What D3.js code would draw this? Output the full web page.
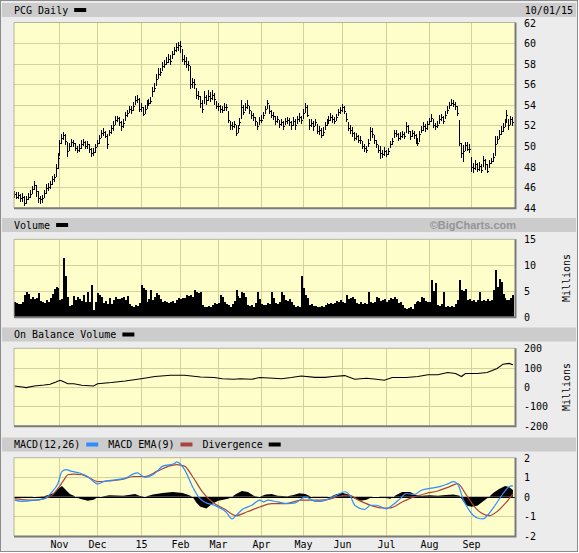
<!DOCTYPE html>
<html lang="en">
<head>
<meta charset="utf-8">
<script src="https://cdn.jsdelivr.net/npm/d3@7"></script>
<style>
    body { margin: 0; background: #ffffff; }
    text { font-family: "DejaVu Sans Mono", monospace; font-size: 10px; fill: #000; }
</style>
</head>
<body>
<div id="chart"></div>
<script>
// month grid: label and trading-day index of first session of the month
var monthLabels = ["Nov", "Dec", "15", "Feb", "Mar", "Apr", "May", "Jun", "Jul", "Aug", "Sep"]
var monthStart = [23, 42, 64, 84, 103, 125, 146, 166, 188, 210, 231]

// daily PCG bars, Oct 2014 .. Oct 1 2015 (one row per month)
var high = [
    45.6,45.5,45.5,45.3,45.4,45.1,45.1,45.4,45.7,46.1,46.6,46.2,45.6,45.1,45.2,45.7,46.3,46.4,46.6,47.1,47.3,48.2,49.3,
    50.6,51.2,51.4,51.2,50.4,50.3,50.7,50.6,50.3,50.0,50.2,50.6,50.7,50.5,50.5,50.2,49.8,49.8,50.2,
    50.6,51.1,51.6,51.7,51.5,51.2,51.6,52.0,52.4,52.9,52.9,52.8,52.4,52.6,53.3,53.5,53.9,53.9,54.3,54.9,55.0,54.7,
    54.2,53.8,54.0,54.5,54.6,54.8,55.7,56.1,57.0,57.6,57.6,58.2,58.4,58.6,58.9,58.8,59.2,59.6,60.0,60.1,
    60.2,59.4,58.8,58.6,58.3,57.8,56.6,56.5,55.6,55.3,54.9,54.5,55.3,55.0,55.4,55.2,55.4,55.1,54.4,
    54.2,54.0,53.9,54.2,54.1,53.4,52.4,52.3,52.4,52.0,52.0,52.7,54.5,54.0,54.2,54.5,53.9,53.4,53.2,52.8,52.3,52.8,
    53.0,53.3,53.9,54.5,54.0,53.5,53.3,52.9,52.9,52.5,52.6,52.4,52.7,52.8,52.7,52.4,52.8,52.6,52.9,53.2,52.9,
    53.6,54.2,54.0,52.6,52.6,52.4,52.6,52.1,51.9,51.7,51.8,52.3,52.6,52.9,53.2,53.0,52.8,53.1,53.6,53.8,
    54.1,53.9,53.2,52.3,52.0,51.8,51.4,51.3,51.1,51.0,50.5,50.2,50.0,50.7,51.8,51.7,51.1,50.6,50.1,50.0,49.6,49.9,
    49.6,49.8,50.5,50.8,51.6,51.6,51.3,51.4,51.5,51.4,52.3,52.0,51.5,51.6,51.5,51.2,50.8,51.5,51.9,52.3,52.1,52.4,
    52.7,53.1,52.6,52.2,52.4,53.0,53.1,52.9,53.4,53.9,54.3,54.6,54.5,54.3,53.9,52.5,50.3,50.1,50.4,50.4,50.2,
    48.9,48.3,48.6,48.3,48.4,48.2,49.0,48.7,48.2,48.6,48.8,49.3,51.0,51.0,51.6,51.9,52.2,52.6,53.5,52.6,52.9,52.8
]
var low = [
    44.9,44.8,44.8,44.6,44.6,44.2,44.4,44.7,44.9,45.3,45.7,45.0,44.5,44.4,44.5,44.9,45.3,45.6,45.8,46.2,46.5,47.0,47.8,
    49.0,50.2,50.6,50.1,48.9,49.5,49.9,49.9,49.5,49.3,49.4,49.7,50.0,49.7,49.7,49.3,48.9,49.0,49.3,
    49.9,50.2,50.8,51.0,50.8,49.7,51.0,51.2,51.5,52.0,52.3,51.9,51.5,51.7,52.4,52.8,53.2,53.1,53.4,54.0,54.2,53.3,
    53.3,52.9,53.1,53.6,53.9,54.1,54.8,55.2,55.8,56.5,56.8,57.3,57.6,57.9,58.1,57.9,58.5,58.8,59.1,59.2,
    59.0,58.2,57.9,57.6,57.3,55.5,55.6,55.5,54.6,54.5,53.7,53.2,54.1,54.0,54.4,54.3,54.5,54.0,53.6,
    53.4,53.2,53.2,53.4,53.4,52.2,51.6,51.6,51.7,51.0,51.3,51.9,52.6,53.0,53.4,53.6,53.1,52.6,52.4,51.9,51.6,52.0,
    52.2,52.6,53.1,53.6,53.1,52.7,52.5,52.0,52.2,51.7,51.9,51.6,52.0,52.1,51.9,51.6,51.9,51.6,52.1,52.3,52.1,
    52.6,53.2,52.8,51.6,51.8,51.5,51.9,51.2,51.1,50.8,51.0,51.6,51.9,52.1,52.4,52.2,52.1,52.4,52.9,53.1,
    53.3,53.1,52.3,51.5,51.2,50.9,50.5,50.6,50.3,50.2,49.7,49.4,49.3,49.9,50.5,50.8,50.2,49.8,49.3,48.7,48.8,49.0,
    48.9,49.1,49.8,50.1,50.8,50.9,50.5,50.6,50.8,50.7,51.3,51.2,50.6,50.9,50.7,50.2,50.0,50.4,51.3,51.5,51.4,51.6,
    52.0,52.3,51.7,51.6,51.7,52.1,52.4,52.1,52.6,53.1,53.6,53.9,53.8,53.5,52.9,50.0,48.8,48.4,49.5,49.5,49.3,
    47.5,47.4,47.7,47.5,47.6,47.4,48.0,47.7,47.4,47.9,48.2,48.4,49.0,50.2,50.7,51.1,51.4,51.8,52.2,51.6,52.0,51.9
]
var close = [
    45.3,45.0,45.2,44.9,45.0,44.5,44.8,45.0,45.3,45.8,46.2,45.6,44.9,44.8,44.9,45.4,45.9,46.0,46.3,46.8,47.0,47.9,48.8,
    50.3,50.8,51.1,50.5,49.5,50.0,50.4,50.3,49.8,49.6,49.8,50.2,50.4,50.0,50.2,49.7,49.3,49.4,49.9,
    50.3,50.8,51.3,51.4,51.0,50.2,51.4,51.7,52.0,52.5,52.7,52.3,51.9,52.2,53.0,53.2,53.6,53.5,53.9,54.5,54.6,53.6,
    53.8,53.1,53.6,54.0,54.2,54.4,55.3,55.6,56.5,57.0,57.2,57.8,58.0,58.2,58.5,58.3,58.9,59.3,59.6,59.8,
    59.7,58.5,58.3,58.0,57.9,56.0,56.2,56.0,55.0,54.9,54.2,53.6,54.8,54.5,54.9,54.7,55.0,54.6,53.9,
    53.9,53.6,53.5,53.8,53.8,52.5,52.0,51.9,52.1,51.3,51.7,52.3,53.8,53.3,53.8,54.0,53.5,53.0,52.8,52.4,51.9,52.5,
    52.5,53.0,53.6,54.2,53.4,53.0,52.9,52.4,52.6,52.1,52.3,51.9,52.4,52.5,52.3,52.0,52.4,52.0,52.6,52.8,52.5,
    53.2,53.8,53.0,52.0,52.2,51.9,52.3,51.5,51.6,51.1,51.4,52.0,52.3,52.5,52.8,52.6,52.4,52.8,53.3,53.5,
    53.8,53.4,52.6,51.7,51.6,51.3,50.8,51.0,50.6,50.6,50.0,49.8,49.6,50.3,51.5,51.2,50.6,50.2,49.6,49.3,49.2,49.5,
    49.2,49.5,50.2,50.5,51.3,51.2,50.8,51.0,51.2,51.0,51.9,51.5,51.0,51.3,51.1,50.6,50.3,51.2,51.6,51.9,51.7,52.1,
    52.4,52.7,52.0,51.9,52.0,52.6,52.8,52.4,53.0,53.5,54.0,54.2,54.1,53.9,53.2,50.3,49.3,49.5,50.1,49.7,49.7,
    48.0,47.9,48.2,47.8,48.1,47.7,48.6,48.2,47.6,48.3,48.5,48.9,50.2,50.7,51.2,51.5,51.8,52.3,53.0,52.0,52.6,52.3
]

// daily volume, millions
var volume = [
    2.8,2.6,2.4,2.5,2.9,4.2,4.8,4.4,3.4,3.8,3.5,3.6,4.5,3.0,2.8,2.7,3.2,2.9,3.6,4.4,5.4,5.7,5.5,
    3.2,3.4,11.3,7.8,3.9,2.0,2.2,4.0,3.2,3.9,3.5,3.0,4.2,2.9,4.8,2.8,6.1,1.3,2.9,
    4.5,4.2,3.8,2.6,3.0,2.4,3.6,2.5,3.2,3.9,3.5,3.4,3.7,3.9,3.3,4.0,2.5,2.0,1.8,2.3,2.1,2.6,
    6.1,5.6,5.2,2.9,3.4,5.2,3.2,3.8,4.5,4.2,3.5,2.9,3.1,2.8,2.6,2.9,3.0,2.7,3.2,3.6,
    3.4,3.6,3.7,4.2,4.0,4.3,3.9,5.2,4.8,4.5,4.8,2.3,1.9,1.8,2.0,1.9,2.3,2.6,2.4,
    2.7,4.2,3.8,2.9,2.4,2.2,1.9,2.5,3.0,5.2,4.0,3.6,4.8,4.5,3.8,2.3,2.0,2.2,1.9,2.6,4.8,3.5,
    2.5,2.3,2.2,2.6,2.4,4.8,3.6,2.6,2.5,2.8,4.8,4.2,3.2,3.0,3.4,2.9,2.3,1.9,2.0,1.8,7.8,
    5.5,4.2,3.6,2.3,2.4,2.1,2.0,1.9,1.8,2.0,1.9,2.2,2.6,2.5,2.7,2.4,2.6,3.0,2.8,3.2,
    2.9,2.6,4.2,3.4,3.6,3.8,3.5,2.6,2.4,2.8,2.5,2.7,2.4,4.8,2.9,2.6,2.8,3.9,3.7,3.0,3.2,3.4,
    2.9,3.3,3.6,3.5,3.8,3.4,2.6,2.8,2.3,1.7,1.5,1.6,1.8,1.4,2.5,2.9,3.0,2.8,3.9,3.6,3.0,2.8,
    2.9,7.1,5.0,6.5,2.3,2.1,2.5,4.8,1.9,2.0,1.8,2.1,1.9,2.4,3.2,7.1,5.2,5.0,5.3,3.2,3.4,
    3.0,3.3,2.9,3.2,4.8,3.0,3.2,3.1,3.4,3.0,3.2,5.2,9.0,5.8,7.4,6.8,4.4,3.6,3.2,3.3,3.6,4.2
]

// on balance volume (millions), read at these trading days
var obvDay = [0,4,6,10,15,18,21,23,24,27,30,34,40,42,49,56,64,71,79,86,94,101,105,111,114,120,124,131,135,140,
    145,152,157,161,167,172,178,183,187,191,198,204,209,214,219,223,226,228,234,239,244,247,250,252]
var obv = [5,0,-3,5,10,14,26,35,31,17,17,9,5,17,23,31,43,54,61,61,52,49,43,40,43,40,49,45,43,49,
    57,50,50,54,59,40,45,40,35,49,49,54,63,63,75,70,54,70,70,75,96,118,122,115]

// MACD(12,26)
var macdDay = [0,4,10,15,19,22,24,26,29,33,37,41,42,45,51,56,62,66,70,75,81,82,86,90,93,96,101,107,110,112,
    115,120,124,126,128,133,138,142,147,152,155,159,163,167,170,172,177,180,183,188,191,195,198,202,206,
    210,215,219,222,224,227,230,234,237,239,243,247,251,252]
var macd = [-0.17,-0.23,-0.17,-0.09,0.26,0.7,1.3,1.39,1.3,1.22,1.04,0.7,0.66,0.78,0.87,0.96,1.22,1.0,1.13,1.57,
    1.7,1.79,1.39,0.52,0,-0.26,-0.43,-0.78,-1.13,-0.96,-0.66,-0.43,-0.17,-0.26,-0.17,-0.26,-0.35,-0.31,0,-0.23,
    -0.23,-0.09,0.09,0.26,0,-0.43,-0.64,-0.43,-0.43,-0.61,-0.43,-0.09,0.17,0.12,0.35,0.43,0.52,0.66,0.78,0.66,
    -0.17,-0.7,-1.08,-1.13,-0.96,-0.43,0.17,0.56,0.56]

// MACD EMA(9)
var sigDay = [0,4,10,15,19,22,25,27,30,34,38,42,48,55,60,66,72,78,82,86,90,95,100,106,112,118,124,130,137,145,
    152,158,164,169,174,180,186,190,196,202,208,214,220,224,228,232,236,240,244,248,252]
var signal = [-0.09,-0.14,-0.17,-0.09,0.09,0.43,0.87,1.13,1.16,1.13,0.96,0.78,0.82,0.9,1.04,1.04,1.3,1.57,1.65,1.57,
    1.04,0.26,-0.26,-0.61,-0.96,-0.75,-0.52,-0.35,-0.35,-0.17,-0.17,-0.14,0.03,0.09,-0.17,-0.43,-0.57,-0.56,-0.26,0,
    0.17,0.3,0.52,0.68,0.17,-0.43,-0.83,-0.96,-0.75,-0.35,0.15]

// divergence
var divDay = [0,5,10,15,17,20,22,24,26,28,30,33,37,40,42,48,55,61,63,66,70,75,80,85,88,90,92,94,97,100,
    103,108,110,112,115,118,121,124,127,130,133,138,141,144,147,150,155,160,163,166,169,172,175,178,181,
    184,187,190,193,196,200,203,206,210,214,218,222,225,227,229,231,234,236,238,240,242,245,248,250,252]
var divergence = [-0.05,-0.04,0.0,0.03,0.1,0.2,0.4,0.55,0.35,0.15,0.05,-0.1,-0.2,-0.15,-0.02,0.08,0.06,0.15,0.05,0.0,
    0.12,0.2,0.25,0.2,0.1,0.0,-0.3,-0.5,-0.6,-0.35,-0.2,-0.1,0.0,0.15,0.3,0.25,0.05,0.0,0.12,0.15,
    0.05,0.03,0.1,0.18,0.15,0.0,-0.05,0.02,0.15,0.2,0.12,-0.1,-0.2,-0.15,0.0,0.0,-0.05,-0.1,0.1,0.25,
    0.25,0.1,0.05,0.08,0.05,0.1,0.12,0.05,-0.25,-0.45,-0.5,-0.45,-0.3,-0.15,0.0,0.2,0.4,0.55,0.5,0.35]

var priceTicks = [44, 46, 48, 50, 52, 54, 56, 58, 60, 62]
var volTicks = [0, 5, 10, 15]
var obvTicks = [-200, -100, 0, 100, 200]
var macdTicks = [-2, -1, 0, 1, 2]

var width = 579
    height = 553
    plotLeft = 14
    plotRight = 515
    gridColor = "#d2d29a"

var svg = d3.select("#chart")
    .append("svg")
        .attr("width", width)
        .attr("height", height)

svg.append("rect")
    .attr("x", 0.5).attr("y", 0.5)
    .attr("width", width - 2).attr("height", height - 2)
    .attr("fill", "#ececec")
    .attr("stroke", "#8c8c8c")

var x = d3.scaleLinear()
    .domain([0, 253.3])
    .range([plotLeft, plotRight])

function px(i) { return Math.round(x(i)) + 0.5 }

// header band with legend items
function header(y, items) {
    svg.append("rect")
        .attr("x", 2).attr("y", y)
        .attr("width", width - 5).attr("height", 14)
        .attr("fill", "#cccccc")
    var cx = 14
    items.forEach(function(it) {
        var t = svg.append("text")
            .attr("x", cx).attr("y", y + 10.5)
            .text(it.text)
        cx += t.node().getComputedTextLength() + 6
        svg.append("rect")
            .attr("x", cx).attr("y", y + 5)
            .attr("width", 12).attr("height", 4)
            .attr("fill", it.color)
        cx += 12 + 10
    })
}

// plot area, grid and right-hand labels; returns y scale
function panel(top, bottom, ticks, millions) {
    var y = d3.scaleLinear()
        .domain([ticks[0], ticks[ticks.length - 1]])
        .range([bottom, top])
    svg.append("rect")
        .attr("x", plotLeft).attr("y", top)
        .attr("width", plotRight - plotLeft).attr("height", bottom - top)
        .attr("fill", "#fefecb")
    svg.append("g")
        .selectAll("line")
        .data(ticks.slice(1, -1))
        .enter()
        .append("line")
            .attr("x1", plotLeft).attr("x2", plotRight)
            .attr("y1", function(d) { return Math.round(y(d)) + 0.5 })
            .attr("y2", function(d) { return Math.round(y(d)) + 0.5 })
            .attr("stroke", gridColor)
    svg.append("g")
        .selectAll("line")
        .data(monthStart)
        .enter()
        .append("line")
            .attr("x1", function(d) { return px(d) }).attr("x2", function(d) { return px(d) })
            .attr("y1", top).attr("y2", bottom)
            .attr("stroke", gridColor)
    svg.append("g")
        .selectAll("text")
        .data(ticks)
        .enter()
        .append("text")
            .attr("x", 524)
            .attr("y", function(d) { return y(d) + 4 })
            .text(function(d) { return d })
    if (millions) {
        svg.append("text")
            .attr("transform", "translate(570," + (top + bottom) / 2 + ") rotate(-90)")
            .attr("text-anchor", "middle")
            .text("Millions")
    }
    return y
}

function frame(top, bottom) {
    svg.append("path")
        .attr("d", "M" + plotLeft + "," + bottom + "V" + top + "H" + plotRight)
        .attr("fill", "none").attr("stroke", "#b4b4a0")
    svg.append("path")
        .attr("d", "M" + plotLeft + "," + (bottom + 0.5) + "H" + (plotRight + 0.5) + "V" + top)
        .attr("fill", "none").attr("stroke", "#7a7a7a").attr("stroke-width", 2)
}

// ---- price panel
header(3, [{text: "PCG Daily", color: "#000"}])
svg.append("text")
    .attr("x", 573).attr("y", 13.5)
    .attr("text-anchor", "end")
    .text("10/01/15")
var yPrice = panel(22.5, 207.7, priceTicks, false)

var bars = svg.append("g").attr("stroke", "black").attr("shape-rendering", "crispEdges")
bars.selectAll("line.hl")
    .data(close)
    .enter()
    .append("line")
        .attr("x1", function(d, i) { return px(i) }).attr("x2", function(d, i) { return px(i) })
        .attr("y1", function(d, i) { return yPrice(high[i]) })
        .attr("y2", function(d, i) { return yPrice(low[i]) })
bars.selectAll("line.c")
    .data(close)
    .enter()
    .append("line")
        .attr("x1", function(d, i) { return px(i) }).attr("x2", function(d, i) { return px(i) + 1.5 })
        .attr("y1", function(d) { return Math.round(yPrice(d)) + 0.5 })
        .attr("y2", function(d) { return Math.round(yPrice(d)) + 0.5 })
frame(22.5, 207.7)

// ---- volume panel
header(218, [{text: "Volume", color: "#000"}])
svg.append("text")
    .attr("x", 516).attr("y", 229)
    .attr("text-anchor", "end")
    .style("font-family", "'Liberation Sans', Arial, sans-serif")
    .style("font-weight", "bold")
    .style("font-size", "11px")
    .style("fill", "#959595")
    .text("\u00A9BigCharts.com")
var yVol = panel(239.3, 316.7, volTicks, true)
svg.append("g")
    .attr("shape-rendering", "crispEdges")
    .selectAll("rect")
    .data(volume)
    .enter()
    .append("rect")
        .attr("x", function(d, i) { return Math.round(x(i)) })
        .attr("width", function(d, i) { return Math.max(1, Math.round(x(i + 1)) - Math.round(x(i))) })
        .attr("y", function(d) { return Math.round(yVol(d)) })
        .attr("height", function(d) { return Math.round(yVol(0)) - Math.round(yVol(d)) + 1 })
        .attr("fill", "black")
frame(239.3, 316.7)

// ---- on balance volume panel
header(327.5, [{text: "On Balance Volume", color: "#000"}])
var yObv = panel(348.3, 425.7, obvTicks, true)
svg.append("path")
    .datum(obvDay)
    .attr("fill", "none")
    .attr("stroke", "black")
    .attr("stroke-width", 1.1)
    .attr("d", d3.line()
        .x(function(d) { return x(d) + 0.5 })
        .y(function(d, i) { return yObv(obv[i]) }))
frame(348.3, 425.7)

// ---- MACD panel
header(437.5, [
    {text: "MACD(12,26)", color: "#2f8cff"},
    {text: "MACD EMA(9)", color: "#a8443e"},
    {text: "Divergence", color: "#000"}
])
var yMacd = panel(457.7, 536, macdTicks, false)
svg.append("path")
    .datum(divDay)
    .attr("fill", "black")
    .attr("d", d3.area()
        .x(function(d) { return x(d) + 0.5 })
        .y0(yMacd(0))
        .y1(function(d, i) { return yMacd(divergence[i]) }))
svg.append("line")
    .attr("x1", plotLeft).attr("x2", plotRight)
    .attr("y1", Math.round(yMacd(0)) + 0.5).attr("y2", Math.round(yMacd(0)) + 0.5)
    .attr("stroke", "black")
svg.append("path")
    .datum(sigDay)
    .attr("fill", "none")
    .attr("stroke", "#a8443e")
    .attr("stroke-width", 1.2)
    .attr("d", d3.line()
        .curve(d3.curveMonotoneX)
        .x(function(d) { return x(d) + 0.5 })
        .y(function(d, i) { return yMacd(signal[i]) }))
svg.append("path")
    .datum(macdDay)
    .attr("fill", "none")
    .attr("stroke", "#2f8cff")
    .attr("stroke-width", 1.2)
    .attr("d", d3.line()
        .curve(d3.curveMonotoneX)
        .x(function(d) { return x(d) + 0.5 })
        .y(function(d, i) { return yMacd(macd[i]) }))
frame(457.7, 536)

// month labels
svg.append("g")
    .selectAll("text")
    .data(monthLabels)
    .enter()
    .append("text")
        .attr("x", function(d, i) { return px(monthStart[i]) })
        .attr("y", 548)
        .attr("text-anchor", "middle")
        .text(function(d) { return d })
</script>
</body>
</html>
